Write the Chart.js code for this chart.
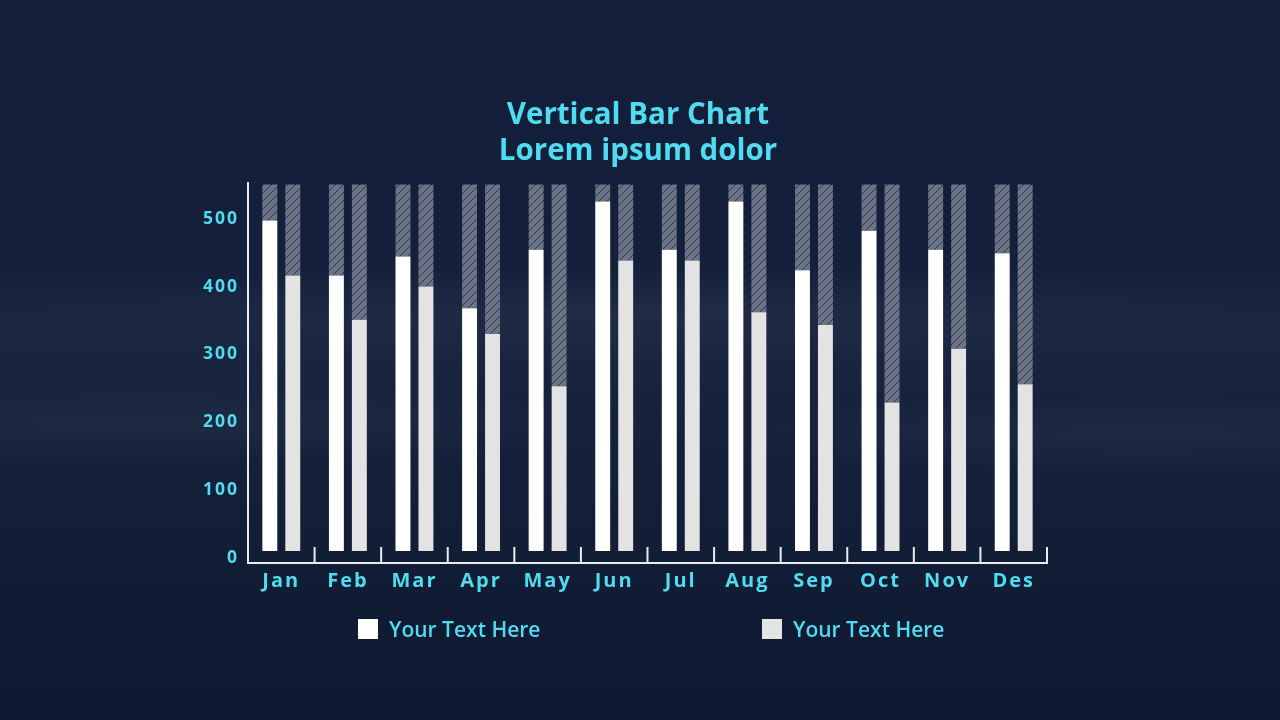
<!DOCTYPE html>
<html>
<head>
<meta charset="utf-8">
<script src="https://cdn.jsdelivr.net/npm/chart.js@4.4.1/dist/chart.umd.min.js"></script>
<style>
  html, body { margin: 0; padding: 0; }
  body {
    width: 1280px; height: 720px; overflow: hidden; position: relative;
    background:
      radial-gradient(ellipse 800px 45px at 640px 315px, rgba(60,70,95,0.22), rgba(0,0,0,0)),
      radial-gradient(ellipse 500px 40px at 150px 425px, rgba(60,70,95,0.22), rgba(0,0,0,0)),
      radial-gradient(ellipse 500px 40px at 1150px 435px, rgba(60,70,95,0.22), rgba(0,0,0,0)),
      linear-gradient(180deg, #131e39 0%, #14203b 35%, #1a2540 48%, #15203a 62%, #101b34 85%, #0d1731 100%);
    font-family: "Open Sans", sans-serif;
  }
  #wrap { position: absolute; left: 0; top: 0; width: 1280px; height: 720px; }
  #legend { position: absolute; top: 615px; left: 0; width: 1280px; height: 28px; }
  .item { position: absolute; display: flex; align-items: center; color: #4fdcf0; font-weight: 600; font-size: 21px; }
  .box { width: 20px; height: 20px; margin-right: 11px; }
</style>
</head>
<body>
<div id="wrap"><canvas id="barChart"></canvas></div>
<div id="legend"></div>
<script>
// chart data
const months = ['Jan', 'Feb', 'Mar', 'Apr', 'May', 'Jun', 'Jul', 'Aug', 'Sep', 'Oct', 'Nov', 'Des'];
const seriesA = [487, 406, 434, 358, 444, 515, 444, 515, 414, 472, 444, 439];
const seriesB = [406, 341, 390, 320, 243, 428, 428, 352, 333, 219, 298, 246];
const seriesNames = ['Your Text Here', 'Your Text Here'];
const yTicks = [0, 100, 200, 300, 400, 500];
const yMax = 540;

const cyan = '#4fdcf0';

// hatched fill for the empty part of each bar
function makeHatch() {
  const c = document.createElement('canvas');
  c.width = 8; c.height = 8;
  const g = c.getContext('2d');
  g.fillStyle = '#6b7387';
  g.fillRect(0, 0, 8, 8);
  g.strokeStyle = '#2f3749';
  g.lineWidth = 1;
  g.beginPath();
  g.moveTo(-1, 9); g.lineTo(9, -1);
  g.moveTo(-1, 1); g.lineTo(1, -1);
  g.moveTo(7, 9); g.lineTo(9, 7);
  g.stroke();
  return g.createPattern(c, 'repeat');
}

// small letter spacing for the axis labels (tick layers drawn above datasets, z: 1)
const spacing = {
  id: 'spacing',
  afterDatasetsDraw(chart) { chart.ctx.letterSpacing = '2px'; },
  afterDraw(chart) { chart.ctx.letterSpacing = '0px'; }
};

// ticks pointing up between categories
const sepTicks = {
  id: 'sepTicks',
  afterDraw(chart) {
    const ctx = chart.ctx;
    const x = chart.scales.x;
    const area = chart.chartArea;
    const step = x.getPixelForValue(1) - x.getPixelForValue(0);
    ctx.save();
    ctx.strokeStyle = '#e8ecf2';
    ctx.lineWidth = 2;
    ctx.beginPath();
    for (let i = 1; i <= months.length; i++) {
      const px = x.getPixelForValue(i) - step / 2;
      ctx.moveTo(px, area.bottom);
      ctx.lineTo(px, area.bottom - 16);
    }
    ctx.stroke();
    ctx.restore();
  }
};

const ctx = document.getElementById('barChart').getContext('2d');
const hatch = makeHatch();

new Chart(ctx, {
  type: 'bar',
  data: {
    labels: months,
    datasets: [
      { label: seriesNames[0], data: seriesA, backgroundColor: '#ffffff', stack: 'a' },
      { label: 'restA', data: seriesA.map(v => yMax - v), backgroundColor: hatch, stack: 'a' },
      { label: seriesNames[1], data: seriesB, backgroundColor: '#e3e3e3', stack: 'b' },
      { label: 'restB', data: seriesB.map(v => yMax - v), backgroundColor: hatch, stack: 'b' }
    ]
  },
  options: {
    responsive: true,
    maintainAspectRatio: false,
    animation: false,
    categoryPercentage: 0.69,
    barPercentage: 0.65,
    layout: { padding: { left: 150, right: 154, top: 97, bottom: 127 } },
    plugins: {
      legend: { display: false },
      tooltip: { enabled: false },
      title: {
        display: true,
        text: ['Vertical Bar Chart', 'Lorem ipsum dolor'],
        color: cyan,
        font: { family: 'Open Sans', size: 29.5, weight: 'bold', lineHeight: 1.23 },
        padding: { top: 0, bottom: 13 }
      }
    },
    scales: {
      x: {
        stacked: true,
        grid: { display: false, drawTicks: false },
        border: { display: true, color: '#e8ecf2', width: 2 },
        ticks: { z: 1, color: cyan, padding: 6, font: { family: 'Open Sans', size: 20, weight: 'bold' } },
        afterFit(scale) { scale.height = 30; }
      },
      y: {
        stacked: true,
        min: -17.5,
        max: 543,
        grid: { display: false, drawTicks: false },
        border: { display: true, color: '#e8ecf2', width: 2 },
        ticks: { z: 1, color: cyan, padding: 9, labelOffset: 7, font: { family: 'Open Sans', size: 17.5, weight: 'bold' } },
        afterBuildTicks(scale) { scale.ticks = yTicks.map(v => ({ value: v })); },
        afterFit(scale) { scale.width = 98; }
      },
      // empty right axis only to keep the plot area where it is
      yRight: {
        position: 'right',
        min: 0,
        max: 1,
        grid: { display: false, drawTicks: false },
        border: { display: false },
        ticks: { display: false },
        afterFit(scale) { scale.width = 79; }
      }
    }
  },
  plugins: [spacing, sepTicks]
});

// legend
const legend = document.getElementById('legend');
const legendColors = ['#ffffff', '#e3e3e3'];
const legendX = [358, 762];
seriesNames.forEach((name, i) => {
  const item = document.createElement('div');
  item.className = 'item';
  item.style.left = legendX[i] + 'px';
  const box = document.createElement('span');
  box.className = 'box';
  box.style.background = legendColors[i];
  const label = document.createElement('span');
  label.textContent = name;
  item.appendChild(box);
  item.appendChild(label);
  legend.appendChild(item);
});
</script>
</body>
</html>
